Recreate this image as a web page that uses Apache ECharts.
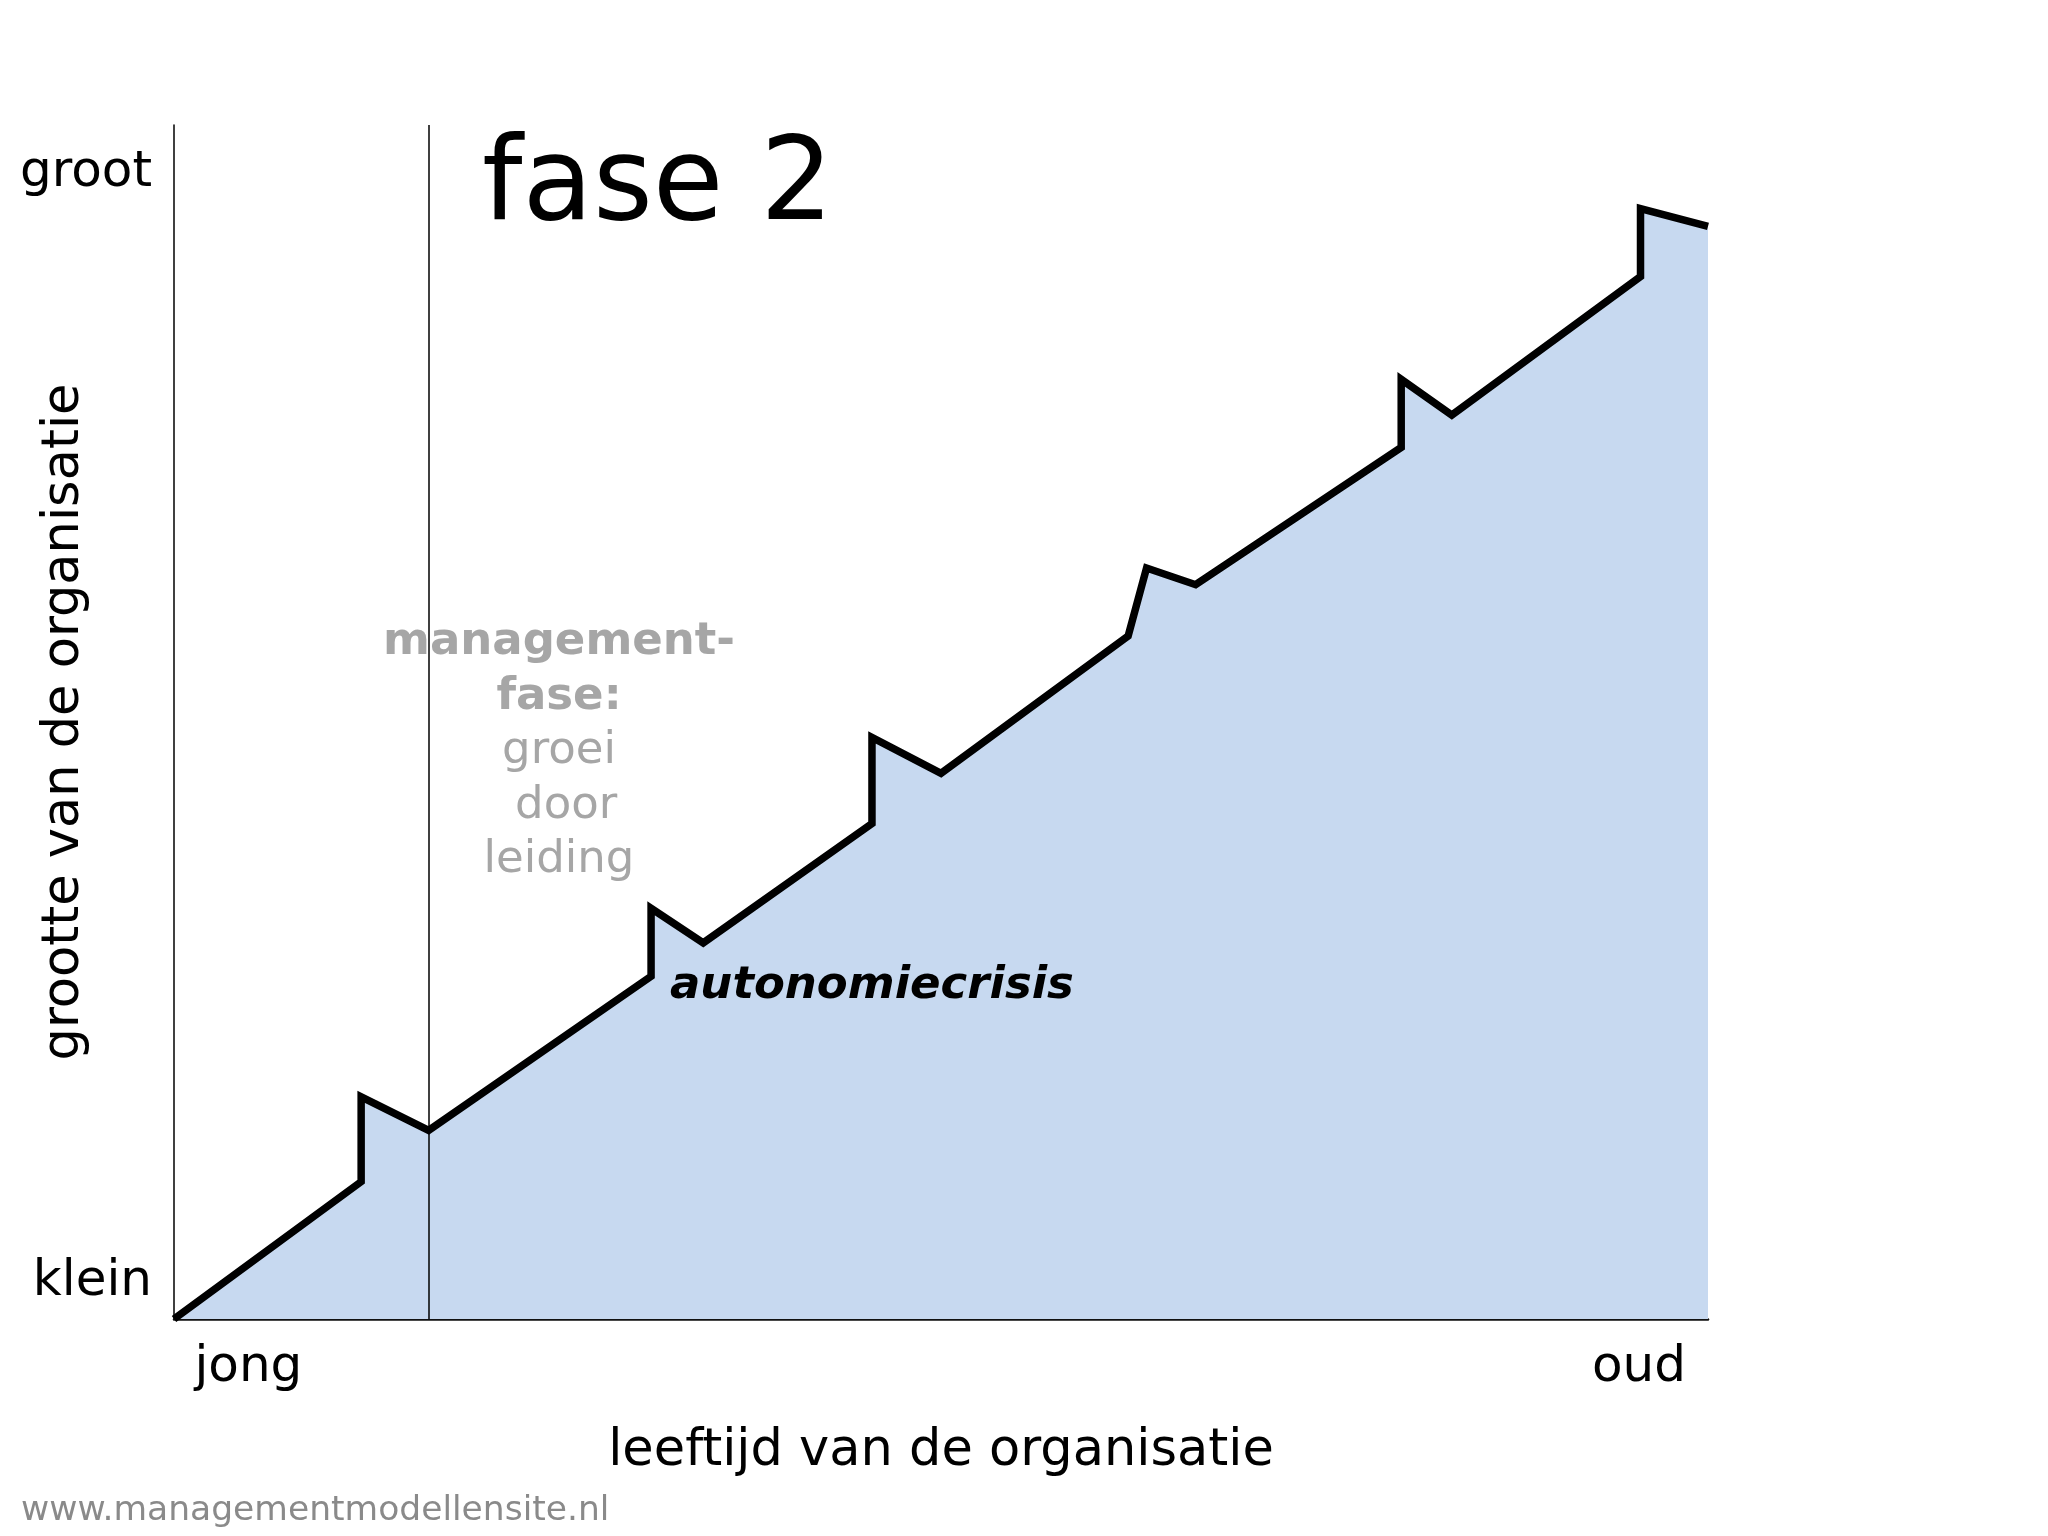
<!DOCTYPE html>
<html>
<head>
<meta charset="utf-8">
<script src="https://cdn.jsdelivr.net/npm/echarts@6/dist/echarts.min.js"></script>
<style>
html,body{margin:0;padding:0;background:#fff;}
#chart{width:2048px;height:1536px;}
</style>
</head>
<body>
<div id="chart"></div>
<script>
// age of the organisation (0 = young, 100 = old)
var ageValues  = [0, 12.2, 12.2, 16.6, 31.1, 31.1, 34.5, 45.5, 45.5, 50.0, 62.2, 63.4, 66.6, 80.0, 80.0, 83.3, 95.6, 95.6, 100];
// size of the organisation (0 = small, 100 = large)
var sizeValues = [0, 11.5, 18.6, 15.8, 28.7, 34.4, 31.5, 41.5, 48.7, 45.7, 57.2, 62.9, 61.5, 73.0, 78.7, 75.7, 87.3, 93.0, 91.5];
// phase boundary (vertical line)
var phaseBoundary = [16.6];
// tick labels
var xTickLabels = ['jong', 'oud'];
var xTickValues = [4.85, 95.5];
var yTickLabels = ['klein', 'groot'];
var yTickValues = [3.1, 96.0];

var FONT = 'DejaVu Sans';
var seriesData = ageValues.map(function (a, i) { return [a, sizeValues[i]]; });

function pick(values, labels, v) {
  var best = 0, d = Infinity;
  for (var i = 0; i < values.length; i++) {
    var dd = Math.abs(values[i] - v);
    if (dd < d) { d = dd; best = i; }
  }
  return labels[best];
}

var chart = echarts.init(document.getElementById('chart'));
chart.setOption({
  backgroundColor: '#ffffff',
  animation: false,
  title: {
    text: 'fase 2',
    left: 477,
    top: 127,
    textStyle: { fontFamily: FONT, fontSize: 115, fontWeight: 'normal', color: '#000' }
  },
  grid: { left: 174, right: 340, top: 125, bottom: 217, containLabel: false, outerBoundsMode: 'none' },
  xAxis: {
    type: 'value', min: 0, max: 100,
    name: 'leeftijd van de organisatie',
    nameLocation: 'middle', nameGap: 107,
    nameTextStyle: { fontFamily: FONT, fontSize: 51, color: '#000' },
    axisLine: { show: true, onZero: false, lineStyle: { color: '#111', width: 2.5 } },
    axisTick: { show: false },
    splitLine: { show: false },
    axisLabel: {
      customValues: xTickValues,
      formatter: function (v) { return pick(xTickValues, xTickLabels, v); },
      fontFamily: FONT, fontSize: 50, color: '#000', margin: 24
    }
  },
  yAxis: {
    type: 'value', min: 0, max: 100,
    name: 'grootte van de organisatie',
    nameLocation: 'middle', nameGap: 84, nameRotate: 90,
    nameMoveOverlap: false,
    nameTextStyle: { fontFamily: FONT, fontSize: 51, color: '#000' },
    axisLine: { show: true, onZero: false, lineStyle: { color: '#000', width: 1.5 } },
    axisTick: { show: false },
    splitLine: { show: false },
    axisLabel: {
      customValues: yTickValues,
      formatter: function (v) { return pick(yTickValues, yTickLabels, v); },
      fontFamily: FONT, fontSize: 50, color: '#000', margin: 22
    }
  },
  series: [{
    type: 'line',
    data: seriesData,
    symbol: 'none',
    lineStyle: { color: '#000', width: 7.5, join: 'miter', cap: 'butt' },
    areaStyle: { color: '#c7d9f0', opacity: 1 },
    markLine: {
      silent: true,
      symbol: ['none', 'none'],
      label: { show: false },
      lineStyle: { color: '#000', width: 1.5, type: 'solid' },
      data: phaseBoundary.map(function (x) { return { xAxis: x }; })
    }
  }],
  graphic: [
    {
      type: 'text', left: 559 - 180, top: 650 - 30, z: 100,
      style: {
        text: '{b|management-}\n{b|fase:}\n{n|groei}\n{n| door}\n{n|leiding}',
        width: 360,
        align: 'center',
        rich: {
          b: { fontFamily: FONT, fontSize: 45, fontWeight: 'bold', fill: '#a6a6a6', lineHeight: 54.5, align: 'center', width: 360 },
          n: { fontFamily: FONT, fontSize: 45, fontWeight: 'normal', fill: '#a6a6a6', lineHeight: 54.5, align: 'center', width: 360 }
        }
      }
    },
    {
      type: 'text', left: 670, top: 991 - 27, z: 100,
      style: {
        text: 'autonomiecrisis',
        font: 'italic bold 45px "DejaVu Sans"',
        fill: '#000'
      }
    },
    {
      type: 'text', left: 21, top: 1514 - 20, z: 100,
      style: {
        text: 'www.managementmodellensite.nl',
        font: 'normal 34.5px "DejaVu Sans"',
        fill: '#8a8a8a'
      }
    }
  ]
});
</script>
</body>
</html>
